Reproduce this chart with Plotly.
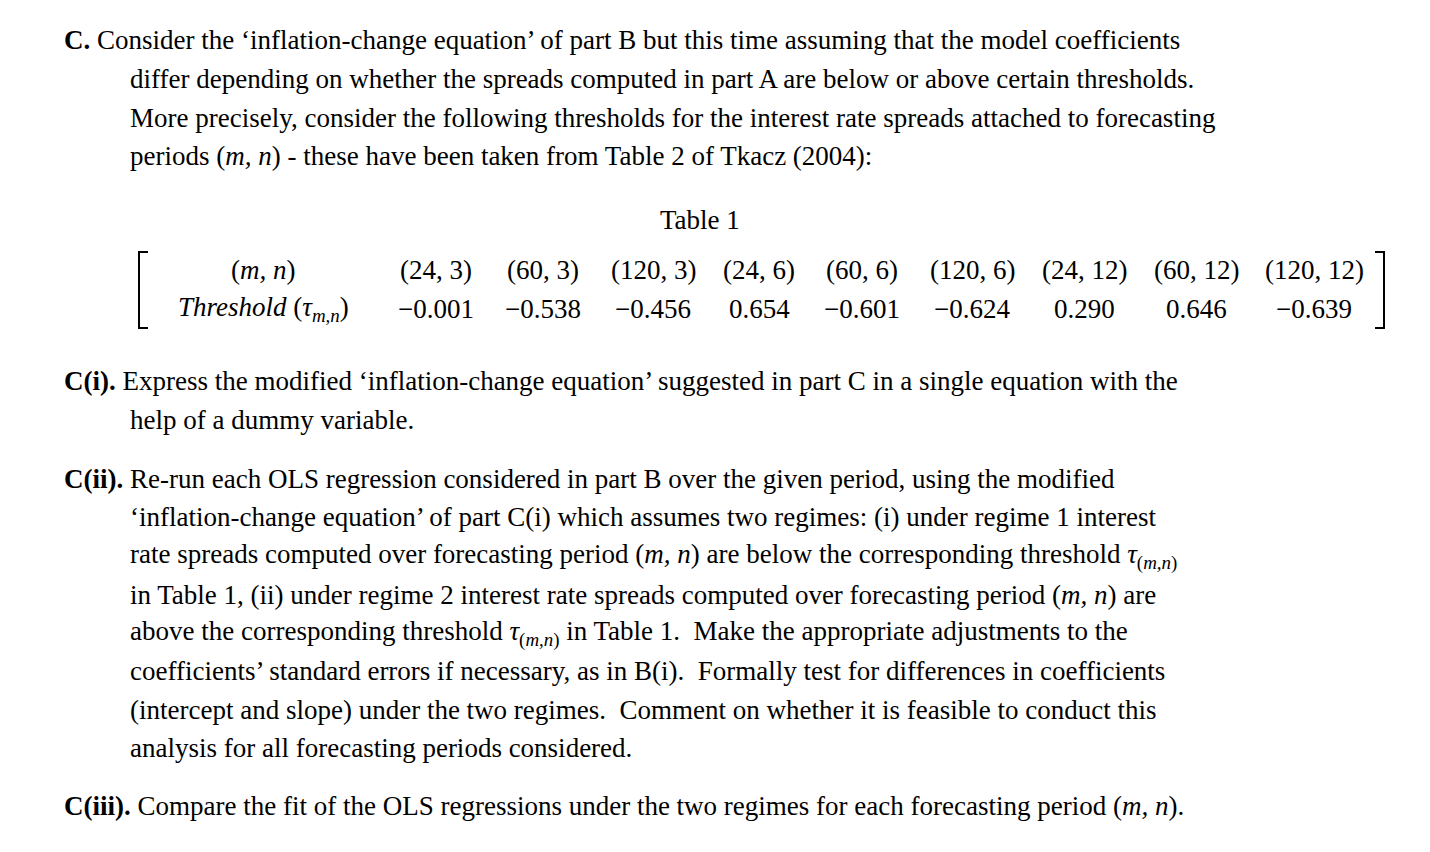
import plotly.graph_objects as go

W, H = 1430, 852
FONT = "Liberation Serif"
SIZE = 27
OFF = 8  # page body margin

# table data
periods = ["(24, 3)", "(60, 3)", "(120, 3)", "(24, 6)", "(60, 6)",
           "(120, 6)", "(24, 12)", "(60, 12)", "(120, 12)"]
thresholds = [-0.001, -0.538, -0.456, 0.654, -0.601, -0.624, 0.290, 0.646, -0.639]
col_x = [436, 543, 653, 759, 862, 972, 1084, 1196, 1314]

# paragraph lines: (x, y, text)
lines = [
    (62, 40, "<b>C.</b> Consider the ‘inflation-change equation’ of part B but this time assuming that the model coefficients"),
    (128, 79, "differ depending on whether the spreads computed in part A are below or above certain thresholds."),
    (128, 118, "More precisely, consider the following thresholds for the interest rate spreads attached to forecasting"),
    (128, 156, "periods (<i>m, n</i>) - these have been taken from Table 2 of Tkacz (2004):"),
    (62, 381, "<b>C(i).</b> Express the modified ‘inflation-change equation’ suggested in part C in a single equation with the"),
    (128, 420, "help of a dummy variable."),
    (62, 479, "<b>C(ii).</b> Re-run each OLS regression considered in part B over the given period, using the modified"),
    (128, 517, "‘inflation-change equation’ of part C(i) which assumes two regimes: (i) under regime 1 interest"),
    (128, 556, "rate spreads computed over forecasting period (<i>m, n</i>) are below the corresponding threshold <i>τ</i><sub>(<i>m,n</i>)</sub>"),
    (128, 595, "in Table 1, (ii) under regime 2 interest rate spreads computed over forecasting period (<i>m, n</i>) are"),
    (128, 633, "above the corresponding threshold <i>τ</i><sub>(<i>m,n</i>)</sub> in Table 1.  Make the appropriate adjustments to the"),
    (128, 671, "coefficients’ standard errors if necessary, as in B(i).  Formally test for differences in coefficients"),
    (128, 710, "(intercept and slope) under the two regimes.  Comment on whether it is feasible to conduct this"),
    (128, 748, "analysis for all forecasting periods considered."),
    (62, 806, "<b>C(iii).</b> Compare the fit of the OLS regressions under the two regimes for each forecasting period (<i>m, n</i>)."),
]

fnt = dict(family=FONT, size=SIZE, color="black")
fig = go.Figure()
ann = []
for x, y, t in lines:
    ann.append(dict(x=x, y=y, text=t, xanchor="left", yanchor="middle",
                    showarrow=False, font=fnt))
ann.append(dict(x=700, y=220, text="Table 1", showarrow=False, font=fnt))
ann.append(dict(x=263, y=270, text="(<i>m, n</i>)", showarrow=False, font=fnt))
ann.append(dict(x=263, y=309, text="<i>Threshold</i> (<i>τ</i><sub><i>m,n</i></sub>)",
                showarrow=False, font=fnt))
for cx, p, v in zip(col_x, periods, thresholds):
    ann.append(dict(x=cx, y=270, text=p, showarrow=False, font=fnt))
    ann.append(dict(x=cx, y=309, text=f"{v:.3f}".replace("-", "−"),
                    showarrow=False, font=fnt))

# brackets
shapes = []
for xs, d in ((139, 1), (1384, -1)):
    shapes.append(dict(type="path", path=f"M {xs+9*d},252 L {xs},252 L {xs},328 L {xs+9*d},328",
                       line=dict(color="black", width=2)))

fig.update_layout(
    width=W, height=H, margin=dict(l=0, r=0, t=0, b=0),
    plot_bgcolor="white", paper_bgcolor="white",
    xaxis=dict(range=[OFF, W + OFF], visible=False, fixedrange=True),
    yaxis=dict(range=[H + OFF, OFF], visible=False, fixedrange=True),
    annotations=ann, shapes=shapes, showlegend=False,
)
fig.write_html("out.html")
